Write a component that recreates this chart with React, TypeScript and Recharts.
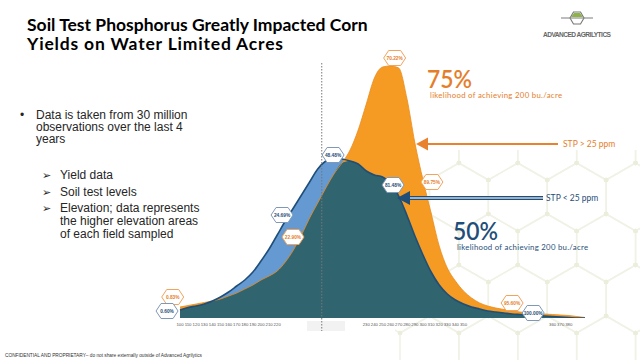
import React from 'react';
import { ComposedChart, Area, Line, XAxis, YAxis, ReferenceLine, ReferenceDot } from 'recharts';

// Yield (bu/acre) categories along the x axis; blanks are the gaps in the original axis
const xLabels = [
  '100', '110', '120', '130', '140', '150', '160', '170', '180', '190', '200', '210', '220',
  '', '', '', '', '', '', '', '', '', '',
  '230', '240', '250', '260', '270', '280', '290', '300', '310', '320', '330', '340', '350',
  '', '', '', '', '', '', '', '', '', '',
  '360', '370', '380', '', '',
];

// Relative frequency (arbitrary units) – STP < 25 ppm
const stpLow = [
  8, 10.5, 12, 14, 17, 21, 26, 32, 38, 46, 57, 69, 83, 97, 110, 123, 136, 149, 157, 160,
  159, 157, 154, 147, 143, 141, 135, 122, 103, 82, 63, 46, 33, 24, 18, 14, 11, 9, 7, 6,
  5, 4, 3.5, 3, 2.5, 2, 1.5, 1, 0.5, 0, 0,
];

// Relative frequency (arbitrary units) – STP > 25 ppm
const stpHigh = [
  11, 12.5, 14, 15.5, 17, 19, 22, 25, 29, 33, 38, 42, 47, 56, 68, 83, 100, 115, 130, 144,
  155, 168, 188, 214, 240, 251, 252, 250, 220, 175, 138, 105, 72, 50, 37, 27, 20, 15, 12, 10,
  8.5, 7, 6, 5, 4.5, 4, 3.5, 3, 2.5, 1.5, 0.5,
];

// Cumulative percentage call-outs (slot, value)
const lowMarkers = [
  { label: '0.60%', slot: -1.6, value: 7 },
  { label: '24.69%', slot: 12.6, value: 103 },
  { label: '48.48%', slot: 18.9, value: 163 },
  { label: '81.48%', slot: 26.3, value: 133 },
  { label: '100.00%', slot: 43.6, value: 5 },
];
const highMarkers = [
  { label: '0.83%', slot: -0.9, value: 21 },
  { label: '22.90%', slot: 13.95, value: 81 },
  { label: '70.22%', slot: 26.5, value: 260 },
  { label: '89.75%', slot: 31.1, value: 136 },
  { label: '95.60%', slot: 41, value: 15 },
];

const thresholdSlot = 17.5;

const data = xLabels.map((label, i) => ({
  slot: i,
  label,
  low: stpLow[i],
  high: stpHigh[i],
  overlap: Math.min(stpLow[i], stpHigh[i]),
}));
const tickSlots = xLabels.map((l, i) => (l ? i : -1)).filter((i) => i >= 0);

const ORANGE = '#f59b23';
const ORANGE_TXT = '#e57e2a';
const LIGHT_BLUE = '#6499d2';
const TEAL = '#30646f';
const DARK_BLUE = '#1f4e79';

function HexLabel({ cx, cy, text, color, textColor }: any) {
  const w = 11, h = 7.5, k = 6;
  const pts = [
    [cx - w, cy], [cx - k, cy - h], [cx + k, cy - h], [cx + w, cy], [cx + k, cy + h], [cx - k, cy + h],
  ].map((p) => p.join(',')).join(' ');
  return (
    <g>
      <polygon points={pts} fill="#fff" stroke={color} strokeWidth={1} />
      <text x={cx} y={cy + 1.7} textAnchor="middle" fontSize={4.8} fontWeight={700}
        fontFamily="Liberation Sans, Arial" fill={textColor}>{text}</text>
    </g>
  );
}

function Honeycomb() {
  const s = 34;
  const w = s * Math.sqrt(3);
  const items: any[] = [];
  for (let r = 0; r < 7; r++) {
    for (let c = 0; c < 6; c++) {
      const cx = 400 + c * w + (r % 2) * (w / 2);
      const cy = 95 + r * 1.5 * s;
      const pts: number[][] = [];
      for (let a = 0; a < 6; a++) {
        const ang = (Math.PI / 180) * (60 * a - 90);
        pts.push([cx + s * Math.cos(ang), cy + s * Math.sin(ang)]);
      }
      items.push(
        <polygon key={`h${r}-${c}`} points={pts.map((p) => p.join(',')).join(' ')}
          fill="none" stroke="#f0f2e6" strokeWidth={1.5} />
      );
      pts.forEach((p, j) =>
        items.push(<circle key={`d${r}-${c}-${j}`} cx={p[0]} cy={p[1]} r={2.3} fill="#eaeedb" />)
      );
    }
  }
  return (
    <g>
      <defs>
        <clipPath id="hcClip">
          <rect x={395} y={150} width={245} height={210} />
        </clipPath>
      </defs>
      <g clipPath="url(#hcClip)">{items}</g>
    </g>
  );
}

export default function App() {
  return (
    <div style={{ position: 'absolute', left: 0, top: 0, width: 640, height: 360, background: '#fff', overflow: 'hidden' }}>
      <svg width={640} height={360} style={{ position: 'absolute', left: 0, top: 0 }}>
        <Honeycomb />
        <rect x={307} y={321} width={38} height={10} fill="#f2f2f2" />
      </svg>
      <div style={{ position: 'absolute', left: 0, top: 0 }}>
        <ComposedChart width={640} height={360} data={data}
          margin={{ top: 48, right: 55, bottom: 30, left: 180 }}>
          <XAxis type="number" dataKey="slot" domain={[0, 50]} ticks={tickSlots}
            tickFormatter={(v: number) => xLabels[v] ?? ''} interval={0}
            tickLine={false} axisLine={false} tickSize={0} tickMargin={5} height={12}
            tick={{ fontSize: 4.3, fill: '#555', fontFamily: 'Liberation Sans, Arial' }} />
          <YAxis hide domain={[0, 270]} allowDataOverflow />
          <Area type="monotone" dataKey="low" fill={LIGHT_BLUE} fillOpacity={1} stroke="none"
            isAnimationActive={false} dot={false} activeDot={false} />
          <Area type="monotone" dataKey="high" fill={ORANGE} fillOpacity={1} stroke="none"
            isAnimationActive={false} dot={false} activeDot={false} />
          <Area type="monotone" dataKey="overlap" fill={TEAL} fillOpacity={1} stroke="none"
            isAnimationActive={false} dot={false} activeDot={false} />
          <Line type="monotone" dataKey="high" stroke="#ea8a1e" strokeWidth={0.8}
            isAnimationActive={false} dot={false} activeDot={false} />
          <Line type="monotone" dataKey="low" stroke={DARK_BLUE} strokeWidth={1.6}
            isAnimationActive={false} dot={false} activeDot={false} />
          <ReferenceLine segment={[{ x: thresholdSlot, y: 255 }, { x: thresholdSlot, y: -13 }]}
            stroke="#777" strokeDasharray="1.5 1.5" strokeWidth={1} ifOverflow="visible" />
          {highMarkers.map((m) => (
            <ReferenceDot key={m.label} x={m.slot} y={m.value} ifOverflow="visible"
              shape={(p: any) => <HexLabel cx={p.cx} cy={p.cy} text={m.label} color="#f2a35c" textColor={ORANGE_TXT} />} />
          ))}
          {lowMarkers.map((m) => (
            <ReferenceDot key={m.label} x={m.slot} y={m.value} ifOverflow="visible"
              shape={(p: any) => <HexLabel cx={p.cx} cy={p.cy} text={m.label} color="#7f98b8" textColor={DARK_BLUE} />} />
          ))}
        </ComposedChart>
      </div>
      <svg width={640} height={360} style={{ position: 'absolute', left: 0, top: 0, pointerEvents: 'none' }}>
        {/* Title */}
        <text x={27} y={31} fontFamily="Lato, sans-serif" fontWeight={700} fontSize={17.5} fill="#000">
          Soil Test Phosphorus Greatly Impacted Corn
        </text>
        <text x={27} y={50} fontFamily="Lato, sans-serif" fontWeight={700} fontSize={17.5} fill="#000"
          textLength={256}>
          Yields on Water Limited Acres
        </text>

        {/* Logo */}
        <polygon points="570,18 573.5,12 580.5,12 584,18 580.5,24 573.5,24" fill="#fff" stroke="#777" strokeWidth={1.1} />
        <path d="M571,17 L574,13 L580,13 L583,17 Z" fill="#8fb24a" />
        <line x1={561} y1={18} x2={593} y2={18} stroke="#888" strokeWidth={1.1} />
        <text x={543} y={37} fontFamily="Liberation Sans, Arial" fontWeight={700} fontSize={6.6}
          fill="#666" textLength={68}>ADVANCED AGRILYTICS</text>

        {/* Bullets */}
        <g fontFamily="Liberation Sans, Arial" fontSize={12} fill="#262626">
          <text x={20} y={119}>•</text>
          <text x={36} y={119}>Data is taken from 30 million</text>
          <text x={36} y={131}>observations over the last 4</text>
          <text x={36} y={143}>years</text>
          <text x={42} y={179} fontFamily="DejaVu Sans" fontSize={11}>➢</text>
          <text x={60} y={179}>Yield data</text>
          <text x={42} y={196} fontFamily="DejaVu Sans" fontSize={11}>➢</text>
          <text x={60} y={196}>Soil test levels</text>
          <text x={42} y={212} fontFamily="DejaVu Sans" fontSize={11}>➢</text>
          <text x={60} y={212}>Elevation; data represents</text>
          <text x={60} y={225}>the higher elevation areas</text>
          <text x={60} y={238}>of each field sampled</text>
        </g>

        {/* 75% annotation */}
        <text x={427} y={88} fontFamily="Lato, sans-serif" fontWeight={600} fontSize={25}
          fill={ORANGE_TXT} textLength={45} lengthAdjust="spacingAndGlyphs">75%</text>
        <text x={430} y={98} fontFamily="Lato, sans-serif" fontSize={7.8} fill={ORANGE_TXT}
          textLength={132}>likelihood of achieving 200 bu./acre</text>

        {/* 50% annotation */}
        <text x={453} y={240} fontFamily="Lato, sans-serif" fontWeight={600} fontSize={25}
          fill={DARK_BLUE} textLength={45} lengthAdjust="spacingAndGlyphs">50%</text>
        <text x={457} y={250} fontFamily="Lato, sans-serif" fontSize={7.8} fill={DARK_BLUE}
          textLength={131}>likelihood of achieving 200 bu./acre</text>

        {/* STP > 25 arrow */}
        <line x1={425} y1={144} x2={558} y2={144} stroke="#e8822e" strokeWidth={2} />
        <polygon points="416,144 428,137.5 428,150.5" fill="#e8822e" />
        <text x={563} y={147} fontFamily="Lato, sans-serif" fontSize={8.5} fill={ORANGE_TXT}>STP &gt; 25 ppm</text>

        {/* STP < 25 arrow */}
        <line x1={405} y1={198} x2={543} y2={198} stroke={DARK_BLUE} strokeWidth={4} />
        <line x1={407} y1={198} x2={543} y2={198} stroke="#c9d4e0" strokeWidth={1.4} />
        <polygon points="397,198 410,191 410,205" fill={DARK_BLUE} />
        <text x={546} y={201} fontFamily="Lato, sans-serif" fontSize={8.5} fill={DARK_BLUE}>STP &lt; 25 ppm</text>

        {/* Footer */}
        <text x={5} y={357} fontFamily="Liberation Sans, Arial" fontSize={4.8} fill="#333" textLength={197}>
          CONFIDENTIAL AND PROPRIETARY– do not share externally outside of Advanced Agrilytics
        </text>
      </svg>
    </div>
  );
}
